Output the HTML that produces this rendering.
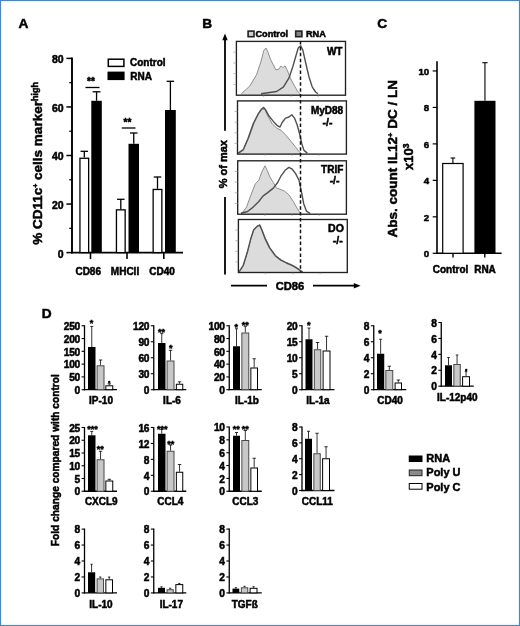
<!DOCTYPE html>
<html><head><meta charset="utf-8"><title>Figure</title>
<style>
html,body{margin:0;padding:0;background:#fff;}
body{width:520px;height:626px;overflow:hidden;position:relative;font-family:"Liberation Sans", Arial, Helvetica, sans-serif;}
#frame{position:absolute;left:0;top:0;width:520px;height:626px;box-sizing:border-box;border-style:solid;border-color:#4c84bc;border-width:1px 1.2px 1.8px 1.2px;box-shadow:inset 0 0 2px 0.5px #cfeeff;}
svg{position:absolute;left:0;top:0;filter:blur(0.4px);}
svg text{font-family:"Liberation Sans", Arial, Helvetica, sans-serif;fill:#000;stroke:#000;stroke-width:0.5px;}
</style></head><body>
<svg width="520" height="626" viewBox="0 0 520 626">
<text x="18.6" y="28.3" font-size="13.7" text-anchor="start" font-weight="bold" >A</text>
<line x1="72" y1="57.6" x2="72" y2="253.5" stroke="#000" stroke-width="1.9" />
<line x1="71.1" y1="252.6" x2="183" y2="252.6" stroke="#000" stroke-width="1.9" />
<line x1="66.4" y1="252.6" x2="72" y2="252.6" stroke="#000" stroke-width="1.5" />
<text x="63.7" y="257.5" font-size="10.5" text-anchor="end" font-weight="bold" >0</text>
<line x1="69.2" y1="228.325" x2="72" y2="228.325" stroke="#000" stroke-width="1.2" />
<line x1="66.4" y1="204.05" x2="72" y2="204.05" stroke="#000" stroke-width="1.5" />
<text x="63.7" y="208.95000000000002" font-size="10.5" text-anchor="end" font-weight="bold" >20</text>
<line x1="69.2" y1="179.775" x2="72" y2="179.775" stroke="#000" stroke-width="1.2" />
<line x1="66.4" y1="155.5" x2="72" y2="155.5" stroke="#000" stroke-width="1.5" />
<text x="63.7" y="160.4" font-size="10.5" text-anchor="end" font-weight="bold" >40</text>
<line x1="69.2" y1="131.22500000000002" x2="72" y2="131.22500000000002" stroke="#000" stroke-width="1.2" />
<line x1="66.4" y1="106.95000000000002" x2="72" y2="106.95000000000002" stroke="#000" stroke-width="1.5" />
<text x="63.7" y="111.85000000000002" font-size="10.5" text-anchor="end" font-weight="bold" >60</text>
<line x1="69.2" y1="82.67500000000001" x2="72" y2="82.67500000000001" stroke="#000" stroke-width="1.2" />
<line x1="66.4" y1="58.400000000000006" x2="72" y2="58.400000000000006" stroke="#000" stroke-width="1.5" />
<text x="63.7" y="63.300000000000004" font-size="10.5" text-anchor="end" font-weight="bold" >80</text>
<line x1="90.5" y1="252.6" x2="90.5" y2="259.1" stroke="#000" stroke-width="1.6" />
<line x1="127" y1="252.6" x2="127" y2="259.1" stroke="#000" stroke-width="1.6" />
<line x1="163.8" y1="252.6" x2="163.8" y2="259.1" stroke="#000" stroke-width="1.6" />
<line x1="84.3" y1="151.3" x2="84.3" y2="157.6" stroke="#000" stroke-width="1.3" />
<line x1="80.55" y1="151.3" x2="88.05" y2="151.3" stroke="#000" stroke-width="1.3" />
<rect x="79.95" y="158.25" width="8.7" height="94.35" fill="#fff" stroke="#000" stroke-width="1.3"/>
<line x1="96.55" y1="91.8" x2="96.55" y2="100.8" stroke="#000" stroke-width="1.3" />
<line x1="92.64999999999999" y1="91.8" x2="100.45" y2="91.8" stroke="#000" stroke-width="1.3" />
<rect x="91.3" y="100.8" width="10.5" height="151.8" fill="#000" stroke="none" stroke-width="1"/>
<line x1="120.8" y1="199.3" x2="120.8" y2="209.2" stroke="#000" stroke-width="1.3" />
<line x1="117.05" y1="199.3" x2="124.55" y2="199.3" stroke="#000" stroke-width="1.3" />
<rect x="116.45" y="209.85" width="8.7" height="42.75000000000001" fill="#fff" stroke="#000" stroke-width="1.3"/>
<line x1="133.75" y1="133" x2="133.75" y2="143.8" stroke="#000" stroke-width="1.3" />
<line x1="130.0" y1="133" x2="137.5" y2="133" stroke="#000" stroke-width="1.3" />
<rect x="128.5" y="143.8" width="10.5" height="108.79999999999998" fill="#000" stroke="none" stroke-width="1"/>
<line x1="157.5" y1="177" x2="157.5" y2="188.8" stroke="#000" stroke-width="1.3" />
<line x1="153.75" y1="177" x2="161.25" y2="177" stroke="#000" stroke-width="1.3" />
<rect x="153.15" y="189.45000000000002" width="8.7" height="63.149999999999984" fill="#fff" stroke="#000" stroke-width="1.3"/>
<line x1="170.4" y1="81.3" x2="170.4" y2="110" stroke="#000" stroke-width="1.3" />
<line x1="166.65" y1="81.3" x2="174.15" y2="81.3" stroke="#000" stroke-width="1.3" />
<rect x="165" y="110" width="10.800000000000011" height="142.6" fill="#000" stroke="none" stroke-width="1"/>
<line x1="85.5" y1="87.5" x2="99.5" y2="87.5" stroke="#000" stroke-width="1.3" />
<text x="91" y="84.5" font-size="10" text-anchor="middle" font-weight="bold" >**</text>
<line x1="121.8" y1="128" x2="135.5" y2="128" stroke="#000" stroke-width="1.3" />
<text x="127.5" y="125.5" font-size="10" text-anchor="middle" font-weight="bold" >**</text>
<text x="88.2" y="274.7" font-size="10" text-anchor="middle" font-weight="bold" >CD86</text>
<text x="125" y="274.7" font-size="10" text-anchor="middle" font-weight="bold" >MHCII</text>
<text x="162" y="274.7" font-size="10" text-anchor="middle" font-weight="bold" >CD40</text>
<rect x="108.3" y="59.2" width="15.6" height="7.2" fill="#fff" stroke="#000" stroke-width="1.5"/>
<rect x="107.5" y="71.6" width="17.1" height="8.5" fill="#000" stroke="none" stroke-width="1"/>
<text x="130" y="65.8" font-size="10" text-anchor="start" font-weight="bold" >Control</text>
<text x="130.3" y="80" font-size="10" text-anchor="start" font-weight="bold" >RNA</text>
<text transform="translate(42.3,244.8) rotate(-90)" font-size="13.5" font-weight="bold">% CD11c<tspan font-size="7" dy="-4.6">+</tspan><tspan dy="4.6"> cells marker</tspan><tspan font-size="9" dy="-4.2">high</tspan></text>
<text x="202.3" y="28.3" font-size="13.7" text-anchor="start" font-weight="bold" >B</text>
<line x1="225" y1="39.5" x2="225" y2="130.8" stroke="#000" stroke-width="1.8" />
<line x1="225" y1="197" x2="225" y2="274.4" stroke="#000" stroke-width="1.8" />
<polygon points="225,33.4 222.3,40.3 227.7,40.3" fill="#000"/>
<text transform="translate(226.8,188.3) rotate(-90)" font-size="11" font-weight="bold">% of max</text>
<rect x="248.1" y="31.1" width="5.9" height="5.6" fill="#d0d0d0" stroke="#222" stroke-width="1.6"/>
<text x="255.4" y="36.5" font-size="9.2" text-anchor="start" font-weight="bold" >Control</text>
<rect x="295.7" y="31.1" width="6.2" height="5.6" fill="#858585" stroke="#222" stroke-width="1.6"/>
<text x="305.9" y="36.5" font-size="9.2" text-anchor="start" font-weight="bold" >RNA</text>
<rect x="236.4" y="41.4" width="109.1" height="53.800000000000004" fill="#fff" stroke="none" stroke-width="1"/>
<polygon points="241.4,93.8 249.8,86 256.5,74.8 261,61.4 263.9,50.3 265.9,48 267.7,51.4 270.4,59.2 273.3,64.8 275.9,69.9 278.8,69.2 281.1,65.9 282.9,67.7 285.1,65.9 287.3,70.3 290.4,78.2 294.5,86 297.8,91.5 300,93.8 300,95.2 241.4,95.2" fill="#dcdcdc" stroke="none"/>
<polyline points="241.4,93.8 249.8,86 256.5,74.8 261,61.4 263.9,50.3 265.9,48 267.7,51.4 270.4,59.2 273.3,64.8 275.9,69.9 278.8,69.2 281.1,65.9 282.9,67.7 285.1,65.9 287.3,70.3 290.4,78.2 294.5,86 297.8,91.5 300,93.8" fill="none" stroke="#8e8e8e" stroke-width="1" stroke-linejoin="round"/>
<polyline points="261,93.8 276.6,91.5 283.3,87.1 288.9,78.2 292.7,67 295.6,57 298.2,48 300.7,45.8 302.9,50.3 305.6,62.5 309,77 312.3,87.1 315.6,92 317.9,93.8" fill="none" stroke="#505050" stroke-width="1.4" stroke-linejoin="round"/>
<rect x="236.4" y="41.4" width="109.1" height="53.800000000000004" fill="none" stroke="#222" stroke-width="1.35"/>
<line x1="233.4" y1="52.16" x2="236.4" y2="52.16" stroke="#888" stroke-width="0.6" />
<line x1="233.4" y1="62.92" x2="236.4" y2="62.92" stroke="#888" stroke-width="0.6" />
<line x1="233.4" y1="73.68" x2="236.4" y2="73.68" stroke="#888" stroke-width="0.6" />
<line x1="233.4" y1="84.44" x2="236.4" y2="84.44" stroke="#888" stroke-width="0.6" />
<line x1="263.675" y1="95.2" x2="263.675" y2="97.0" stroke="#888" stroke-width="0.6" />
<line x1="290.95" y1="95.2" x2="290.95" y2="97.0" stroke="#888" stroke-width="0.6" />
<line x1="318.225" y1="95.2" x2="318.225" y2="97.0" stroke="#888" stroke-width="0.6" />
<rect x="237.5" y="100.9" width="108.89999999999998" height="53.19999999999999" fill="#fff" stroke="none" stroke-width="1"/>
<polygon points="238.7,153.1 243.2,150.4 248.7,138.2 254.3,122.5 258.8,113.6 262.1,109.2 265,109.6 267.7,115.8 272.2,123.7 276.6,128.1 281.1,130.3 285.5,134.8 291.1,141.5 295.6,147.1 298.9,151.5 301.1,153.1 301.1,154.1 238.7,154.1" fill="#dcdcdc" stroke="none"/>
<polyline points="238.7,153.1 243.2,150.4 248.7,138.2 254.3,122.5 258.8,113.6 262.1,109.2 265,109.6 267.7,115.8 272.2,123.7 276.6,128.1 281.1,130.3 285.5,134.8 291.1,141.5 295.6,147.1 298.9,151.5 301.1,153.1" fill="none" stroke="#8e8e8e" stroke-width="1" stroke-linejoin="round"/>
<polyline points="238.2,153.1 243.2,149.7 248.1,138.2 253.2,123.7 257.7,114.7 261.4,109.2 263.7,107.4 265.9,110.3 268.8,115.8 273.3,121.4 277.7,125.9 280,127 282.2,122.5 285.5,118.1 288.9,117 291.8,114.7 294.5,118.1 297.1,124.8 299.6,133.7 301.8,143.7 304,150.4 307.4,153.1" fill="none" stroke="#505050" stroke-width="1.4" stroke-linejoin="round"/>
<rect x="237.5" y="100.9" width="108.89999999999998" height="53.19999999999999" fill="none" stroke="#222" stroke-width="1.35"/>
<line x1="234.5" y1="111.54" x2="237.5" y2="111.54" stroke="#888" stroke-width="0.6" />
<line x1="234.5" y1="122.18" x2="237.5" y2="122.18" stroke="#888" stroke-width="0.6" />
<line x1="234.5" y1="132.82" x2="237.5" y2="132.82" stroke="#888" stroke-width="0.6" />
<line x1="234.5" y1="143.45999999999998" x2="237.5" y2="143.45999999999998" stroke="#888" stroke-width="0.6" />
<line x1="264.725" y1="154.1" x2="264.725" y2="155.9" stroke="#888" stroke-width="0.6" />
<line x1="291.95" y1="154.1" x2="291.95" y2="155.9" stroke="#888" stroke-width="0.6" />
<line x1="319.17499999999995" y1="154.1" x2="319.17499999999995" y2="155.9" stroke="#888" stroke-width="0.6" />
<rect x="237.7" y="160.8" width="108.69999999999999" height="53.39999999999998" fill="#fff" stroke="none" stroke-width="1"/>
<polygon points="242,213.1 246.5,207.1 251,194.8 255.4,183.7 258.8,180.3 262.1,171.4 265,165.8 267.2,170.3 269.9,177 273.3,182.5 276.6,188.1 280,189.2 284.4,191 288.9,194.8 293.3,201.5 297.1,208.2 300,212.6 300,214.2 242,214.2" fill="#dcdcdc" stroke="none"/>
<polyline points="242,213.1 246.5,207.1 251,194.8 255.4,183.7 258.8,180.3 262.1,171.4 265,165.8 267.2,170.3 269.9,177 273.3,182.5 276.6,188.1 280,189.2 284.4,191 288.9,194.8 293.3,201.5 297.1,208.2 300,212.6" fill="none" stroke="#8e8e8e" stroke-width="1" stroke-linejoin="round"/>
<polyline points="240.9,213.3 247.6,211.5 253.2,207.1 258.8,201.5 263.2,195.9 267.7,192.6 273.3,188.1 277.7,182.5 281.1,175.8 285.1,170.3 288.9,167.4 292.2,169.2 295.6,173.6 299,180.3 301.4,191.5 303.7,203.7 306.4,211.1 310,213.3" fill="none" stroke="#505050" stroke-width="1.4" stroke-linejoin="round"/>
<rect x="237.7" y="160.8" width="108.69999999999999" height="53.39999999999998" fill="none" stroke="#222" stroke-width="1.35"/>
<line x1="234.7" y1="171.48000000000002" x2="237.7" y2="171.48000000000002" stroke="#888" stroke-width="0.6" />
<line x1="234.7" y1="182.16" x2="237.7" y2="182.16" stroke="#888" stroke-width="0.6" />
<line x1="234.7" y1="192.84" x2="237.7" y2="192.84" stroke="#888" stroke-width="0.6" />
<line x1="234.7" y1="203.51999999999998" x2="237.7" y2="203.51999999999998" stroke="#888" stroke-width="0.6" />
<line x1="264.875" y1="214.2" x2="264.875" y2="216.0" stroke="#888" stroke-width="0.6" />
<line x1="292.04999999999995" y1="214.2" x2="292.04999999999995" y2="216.0" stroke="#888" stroke-width="0.6" />
<line x1="319.22499999999997" y1="214.2" x2="319.22499999999997" y2="216.0" stroke="#888" stroke-width="0.6" />
<rect x="238.4" y="219.5" width="108.9" height="53.0" fill="#fff" stroke="none" stroke-width="1"/>
<polygon points="239.5,271.3 243.4,265.3 247.6,251.9 251,238.5 253.9,229.6 257,226.3 259.9,224.7 262.1,229.6 265.5,238.5 269.9,247.5 275.5,255.3 281.1,259.7 286.7,262.6 292.2,264.9 296.7,267.5 301.1,270.6 302.9,271.6 302.9,272.5 239.5,272.5" fill="#dcdcdc" stroke="none"/>
<polyline points="239.5,271.3 243.4,265.3 247.6,251.9 251,238.5 253.9,229.6 257,226.3 259.9,224.7 262.1,229.6 265.5,238.5 269.9,247.5 275.5,255.3 281.1,259.7 286.7,262.6 292.2,264.9 296.7,267.5 301.1,270.6 302.9,271.6" fill="none" stroke="#8e8e8e" stroke-width="1" stroke-linejoin="round"/>
<polyline points="239.2,271.7 243.1,265.7 247.29999999999998,252.3 250.7,238.9 253.6,230.0 256.7,226.70000000000002 259.59999999999997,225.1 261.8,230.0 265.2,238.9 269.59999999999997,247.9 275.2,255.70000000000002 280.8,260.09999999999997 286.4,263.0 291.9,265.29999999999995 296.4,267.9 300.8,271.0 302.59999999999997,272.0" fill="none" stroke="#505050" stroke-width="1.4" stroke-linejoin="round"/>
<rect x="238.4" y="219.5" width="108.9" height="53.0" fill="none" stroke="#222" stroke-width="1.35"/>
<line x1="235.4" y1="230.1" x2="238.4" y2="230.1" stroke="#888" stroke-width="0.6" />
<line x1="235.4" y1="240.7" x2="238.4" y2="240.7" stroke="#888" stroke-width="0.6" />
<line x1="235.4" y1="251.3" x2="238.4" y2="251.3" stroke="#888" stroke-width="0.6" />
<line x1="235.4" y1="261.9" x2="238.4" y2="261.9" stroke="#888" stroke-width="0.6" />
<line x1="265.625" y1="272.5" x2="265.625" y2="274.3" stroke="#888" stroke-width="0.6" />
<line x1="292.85" y1="272.5" x2="292.85" y2="274.3" stroke="#888" stroke-width="0.6" />
<line x1="320.07500000000005" y1="272.5" x2="320.07500000000005" y2="274.3" stroke="#888" stroke-width="0.6" />
<line x1="300.5" y1="41" x2="300.5" y2="271.8" stroke="#111" stroke-width="1.5" stroke-dasharray="3.5 2.4"/>
<text x="334.7" y="54.9" font-size="10" text-anchor="middle" font-weight="bold" >WT</text>
<text x="327" y="113.9" font-size="10" text-anchor="middle" font-weight="bold" >MyD88</text>
<text x="327.5" y="126" font-size="10.5" text-anchor="middle" font-weight="bold" >-/-</text>
<text x="332.2" y="172.9" font-size="10" text-anchor="middle" font-weight="bold" >TRIF</text>
<text x="334.6" y="184.3" font-size="10.5" text-anchor="middle" font-weight="bold" >-/-</text>
<text x="336" y="232" font-size="10.6" text-anchor="middle" font-weight="bold" >DO</text>
<text x="337.7" y="243.8" font-size="10.5" text-anchor="middle" font-weight="bold" >-/-</text>
<line x1="231" y1="285.7" x2="267" y2="285.7" stroke="#000" stroke-width="1.7" />
<line x1="313" y1="285.7" x2="355" y2="285.7" stroke="#000" stroke-width="1.7" />
<polygon points="360.6,285.7 353.8,283 353.8,288.4" fill="#000"/>
<text x="290" y="290.2" font-size="11.2" text-anchor="middle" font-weight="bold" >CD86</text>
<text x="377.3" y="28.2" font-size="13.7" text-anchor="start" font-weight="bold" >C</text>
<line x1="437" y1="61.3" x2="437" y2="254.10000000000002" stroke="#000" stroke-width="1.6" />
<line x1="436.2" y1="253.3" x2="501.6" y2="253.3" stroke="#000" stroke-width="1.6" />
<line x1="432.7" y1="253.3" x2="437" y2="253.3" stroke="#000" stroke-width="1.2" />
<text x="429.2" y="257.3" font-size="9.7" text-anchor="end" font-weight="bold" >0</text>
<line x1="432.7" y1="216.83" x2="437" y2="216.83" stroke="#000" stroke-width="1.2" />
<text x="429.2" y="220.83" font-size="9.7" text-anchor="end" font-weight="bold" >2</text>
<line x1="432.7" y1="180.36" x2="437" y2="180.36" stroke="#000" stroke-width="1.2" />
<text x="429.2" y="184.36" font-size="9.7" text-anchor="end" font-weight="bold" >4</text>
<line x1="432.7" y1="143.89000000000001" x2="437" y2="143.89000000000001" stroke="#000" stroke-width="1.2" />
<text x="429.2" y="147.89000000000001" font-size="9.7" text-anchor="end" font-weight="bold" >6</text>
<line x1="432.7" y1="107.42000000000002" x2="437" y2="107.42000000000002" stroke="#000" stroke-width="1.2" />
<text x="429.2" y="111.42000000000002" font-size="9.7" text-anchor="end" font-weight="bold" >8</text>
<line x1="432.7" y1="70.95000000000002" x2="437" y2="70.95000000000002" stroke="#000" stroke-width="1.2" />
<text x="429.2" y="74.95000000000002" font-size="9.7" text-anchor="end" font-weight="bold" >10</text>
<line x1="453" y1="253.3" x2="453" y2="257.5" stroke="#000" stroke-width="1.4" />
<line x1="484.8" y1="253.3" x2="484.8" y2="257.5" stroke="#000" stroke-width="1.4" />
<line x1="452.9" y1="158" x2="452.9" y2="162.9" stroke="#000" stroke-width="1.1" />
<line x1="450.59999999999997" y1="158" x2="455.2" y2="158" stroke="#000" stroke-width="1.1" />
<rect x="442.70000000000005" y="163.5" width="20.399999999999967" height="89.80000000000001" fill="#fff" stroke="#000" stroke-width="1.2"/>
<line x1="484.95" y1="62.7" x2="484.95" y2="100.8" stroke="#000" stroke-width="1.1" />
<line x1="482.34999999999997" y1="62.7" x2="487.55" y2="62.7" stroke="#000" stroke-width="1.1" />
<rect x="474.4" y="100.8" width="21.100000000000023" height="152.5" fill="#000" stroke="none" stroke-width="1"/>
<text x="450.5" y="273.3" font-size="10" text-anchor="middle" font-weight="bold" >Control</text>
<text x="485" y="273.3" font-size="10" text-anchor="middle" font-weight="bold" >RNA</text>
<text transform="translate(397.1,237.5) rotate(-90)" font-size="13.5" font-weight="bold">Abs. count IL12<tspan font-size="7.5" dy="-4.6">+</tspan><tspan dy="4.6"> DC / LN</tspan></text>
<text transform="translate(413.2,169.9) rotate(-90)" font-size="13" font-weight="bold">x10<tspan font-size="8.5" dy="-4.5">3</tspan></text>
<text x="41.8" y="318.2" font-size="13.7" text-anchor="start" font-weight="bold" >D</text>
<text transform="translate(59.3,546.2) rotate(-90)" font-size="10.2" font-weight="bold">Fold change compared with control</text>
<line x1="84.5" y1="325.25" x2="84.5" y2="390.34999999999997" stroke="#000" stroke-width="1.3" />
<line x1="83.85" y1="389.7" x2="117.0" y2="389.7" stroke="#000" stroke-width="1.3" />
<line x1="81.6" y1="389.7" x2="84.5" y2="389.7" stroke="#000" stroke-width="1.1" />
<text x="80.0" y="393.9" font-size="10.2" text-anchor="end" font-weight="bold" letter-spacing="-0.25">0</text>
<line x1="81.6" y1="376.90999999999997" x2="84.5" y2="376.90999999999997" stroke="#000" stroke-width="1.1" />
<text x="80.0" y="381.10999999999996" font-size="10.2" text-anchor="end" font-weight="bold" letter-spacing="-0.25">50</text>
<line x1="81.6" y1="364.12" x2="84.5" y2="364.12" stroke="#000" stroke-width="1.1" />
<text x="80.0" y="368.32" font-size="10.2" text-anchor="end" font-weight="bold" letter-spacing="-0.25">100</text>
<line x1="81.6" y1="351.33" x2="84.5" y2="351.33" stroke="#000" stroke-width="1.1" />
<text x="80.0" y="355.53" font-size="10.2" text-anchor="end" font-weight="bold" letter-spacing="-0.25">150</text>
<line x1="81.6" y1="338.54" x2="84.5" y2="338.54" stroke="#000" stroke-width="1.1" />
<text x="80.0" y="342.74" font-size="10.2" text-anchor="end" font-weight="bold" letter-spacing="-0.25">200</text>
<line x1="81.6" y1="325.75" x2="84.5" y2="325.75" stroke="#000" stroke-width="1.1" />
<text x="80.0" y="329.95" font-size="10.2" text-anchor="end" font-weight="bold" letter-spacing="-0.25">250</text>
<line x1="91.75" y1="326.4" x2="91.75" y2="347" stroke="#000" stroke-width="0.8" />
<line x1="90.25" y1="326.4" x2="93.25" y2="326.4" stroke="#000" stroke-width="0.8" />
<rect x="88" y="347" width="7.5" height="42.69999999999999" fill="#000" stroke="none" stroke-width="1"/>
<line x1="100.55" y1="360" x2="100.55" y2="365.3" stroke="#000" stroke-width="0.8" />
<line x1="98.85" y1="360" x2="102.25" y2="360" stroke="#000" stroke-width="0.8" />
<rect x="97.1" y="365.8" width="6.900000000000006" height="23.899999999999977" fill="#c8c8c8" stroke="#4a4a4a" stroke-width="1.0"/>
<line x1="109.3" y1="383.8" x2="109.3" y2="385.3" stroke="#000" stroke-width="0.8" />
<line x1="107.6" y1="383.8" x2="111.0" y2="383.8" stroke="#000" stroke-width="0.8" />
<rect x="105.85" y="385.8" width="6.900000000000006" height="3.8999999999999773" fill="#fff" stroke="#000" stroke-width="1.0"/>
<text x="101" y="404.2" font-size="10" text-anchor="middle" font-weight="bold" >IP-10</text>
<text x="91.5" y="325.7" font-size="9" text-anchor="middle" font-weight="bold" >*</text>
<text x="109.3" y="385.1" font-size="5" text-anchor="middle" font-weight="bold" >*</text>
<line x1="153.75" y1="325.25" x2="153.75" y2="390.34999999999997" stroke="#000" stroke-width="1.3" />
<line x1="153.1" y1="389.7" x2="186.25" y2="389.7" stroke="#000" stroke-width="1.3" />
<line x1="150.85" y1="389.7" x2="153.75" y2="389.7" stroke="#000" stroke-width="1.1" />
<text x="149.25" y="393.9" font-size="10.2" text-anchor="end" font-weight="bold" letter-spacing="-0.25">0</text>
<line x1="150.85" y1="373.7125" x2="153.75" y2="373.7125" stroke="#000" stroke-width="1.1" />
<text x="149.25" y="377.91249999999997" font-size="10.2" text-anchor="end" font-weight="bold" letter-spacing="-0.25">30</text>
<line x1="150.85" y1="357.725" x2="153.75" y2="357.725" stroke="#000" stroke-width="1.1" />
<text x="149.25" y="361.925" font-size="10.2" text-anchor="end" font-weight="bold" letter-spacing="-0.25">60</text>
<line x1="150.85" y1="341.7375" x2="153.75" y2="341.7375" stroke="#000" stroke-width="1.1" />
<text x="149.25" y="345.9375" font-size="10.2" text-anchor="end" font-weight="bold" letter-spacing="-0.25">90</text>
<line x1="150.85" y1="325.75" x2="153.75" y2="325.75" stroke="#000" stroke-width="1.1" />
<text x="149.25" y="329.95" font-size="10.2" text-anchor="end" font-weight="bold" letter-spacing="-0.25">120</text>
<line x1="161.75" y1="333.6" x2="161.75" y2="343" stroke="#000" stroke-width="0.8" />
<line x1="160.25" y1="333.6" x2="163.25" y2="333.6" stroke="#000" stroke-width="0.8" />
<rect x="158" y="343" width="7.5" height="46.69999999999999" fill="#000" stroke="none" stroke-width="1"/>
<line x1="170.55" y1="350.3" x2="170.55" y2="360.5" stroke="#000" stroke-width="0.8" />
<line x1="168.85000000000002" y1="350.3" x2="172.25" y2="350.3" stroke="#000" stroke-width="0.8" />
<rect x="167.1" y="361.0" width="6.900000000000006" height="28.69999999999999" fill="#c8c8c8" stroke="#4a4a4a" stroke-width="1.0"/>
<line x1="179.55" y1="381.8" x2="179.55" y2="383.75" stroke="#000" stroke-width="0.8" />
<line x1="177.85000000000002" y1="381.8" x2="181.25" y2="381.8" stroke="#000" stroke-width="0.8" />
<rect x="176.35" y="384.25" width="6.400000000000006" height="5.449999999999989" fill="#fff" stroke="#000" stroke-width="1.0"/>
<text x="172" y="404.2" font-size="10" text-anchor="middle" font-weight="bold" >IL-6</text>
<text x="161.5" y="334.7" font-size="9" text-anchor="middle" font-weight="bold" >**</text>
<text x="170.75" y="350.7" font-size="9" text-anchor="middle" font-weight="bold" >*</text>
<line x1="229.25" y1="325.25" x2="229.25" y2="390.34999999999997" stroke="#000" stroke-width="1.3" />
<line x1="228.6" y1="389.7" x2="261.75" y2="389.7" stroke="#000" stroke-width="1.3" />
<line x1="226.35" y1="389.7" x2="229.25" y2="389.7" stroke="#000" stroke-width="1.1" />
<text x="224.75" y="393.9" font-size="10.2" text-anchor="end" font-weight="bold" letter-spacing="-0.25">0</text>
<line x1="226.35" y1="376.90999999999997" x2="229.25" y2="376.90999999999997" stroke="#000" stroke-width="1.1" />
<text x="224.75" y="381.10999999999996" font-size="10.2" text-anchor="end" font-weight="bold" letter-spacing="-0.25">20</text>
<line x1="226.35" y1="364.12" x2="229.25" y2="364.12" stroke="#000" stroke-width="1.1" />
<text x="224.75" y="368.32" font-size="10.2" text-anchor="end" font-weight="bold" letter-spacing="-0.25">40</text>
<line x1="226.35" y1="351.33" x2="229.25" y2="351.33" stroke="#000" stroke-width="1.1" />
<text x="224.75" y="355.53" font-size="10.2" text-anchor="end" font-weight="bold" letter-spacing="-0.25">60</text>
<line x1="226.35" y1="338.54" x2="229.25" y2="338.54" stroke="#000" stroke-width="1.1" />
<text x="224.75" y="342.74" font-size="10.2" text-anchor="end" font-weight="bold" letter-spacing="-0.25">80</text>
<line x1="226.35" y1="325.75" x2="229.25" y2="325.75" stroke="#000" stroke-width="1.1" />
<text x="224.75" y="329.95" font-size="10.2" text-anchor="end" font-weight="bold" letter-spacing="-0.25">100</text>
<line x1="236.5" y1="328.75" x2="236.5" y2="346.25" stroke="#000" stroke-width="0.8" />
<line x1="235.0" y1="328.75" x2="238.0" y2="328.75" stroke="#000" stroke-width="0.8" />
<rect x="233" y="346.25" width="7" height="43.44999999999999" fill="#000" stroke="none" stroke-width="1"/>
<line x1="245.3" y1="326.25" x2="245.3" y2="332.5" stroke="#000" stroke-width="0.8" />
<line x1="243.60000000000002" y1="326.25" x2="247.0" y2="326.25" stroke="#000" stroke-width="0.8" />
<rect x="241.85" y="333.0" width="6.900000000000006" height="56.69999999999999" fill="#c8c8c8" stroke="#4a4a4a" stroke-width="1.0"/>
<line x1="254.175" y1="358.75" x2="254.175" y2="367.5" stroke="#000" stroke-width="0.8" />
<line x1="252.47500000000002" y1="358.75" x2="255.875" y2="358.75" stroke="#000" stroke-width="0.8" />
<rect x="250.85" y="368.0" width="6.650000000000006" height="21.69999999999999" fill="#fff" stroke="#000" stroke-width="1.0"/>
<text x="247" y="404.2" font-size="10" text-anchor="middle" font-weight="bold" >IL-1b</text>
<text x="236.3" y="329.7" font-size="9" text-anchor="middle" font-weight="bold" >*</text>
<text x="245.3" y="327.5" font-size="9" text-anchor="middle" font-weight="bold" >**</text>
<line x1="302" y1="325.25" x2="302" y2="390.34999999999997" stroke="#000" stroke-width="1.3" />
<line x1="301.35" y1="389.7" x2="334.5" y2="389.7" stroke="#000" stroke-width="1.3" />
<line x1="299.1" y1="389.7" x2="302" y2="389.7" stroke="#000" stroke-width="1.1" />
<text x="297.5" y="393.9" font-size="10.2" text-anchor="end" font-weight="bold" letter-spacing="-0.25">0</text>
<line x1="299.1" y1="373.7125" x2="302" y2="373.7125" stroke="#000" stroke-width="1.1" />
<text x="297.5" y="377.91249999999997" font-size="10.2" text-anchor="end" font-weight="bold" letter-spacing="-0.25">5</text>
<line x1="299.1" y1="357.725" x2="302" y2="357.725" stroke="#000" stroke-width="1.1" />
<text x="297.5" y="361.925" font-size="10.2" text-anchor="end" font-weight="bold" letter-spacing="-0.25">10</text>
<line x1="299.1" y1="341.7375" x2="302" y2="341.7375" stroke="#000" stroke-width="1.1" />
<text x="297.5" y="345.9375" font-size="10.2" text-anchor="end" font-weight="bold" letter-spacing="-0.25">15</text>
<line x1="299.1" y1="325.75" x2="302" y2="325.75" stroke="#000" stroke-width="1.1" />
<text x="297.5" y="329.95" font-size="10.2" text-anchor="end" font-weight="bold" letter-spacing="-0.25">20</text>
<line x1="309.0" y1="328" x2="309.0" y2="339.25" stroke="#000" stroke-width="0.8" />
<line x1="307.5" y1="328" x2="310.5" y2="328" stroke="#000" stroke-width="0.8" />
<rect x="305.5" y="339.25" width="7.0" height="50.44999999999999" fill="#000" stroke="none" stroke-width="1"/>
<line x1="317.55" y1="342.5" x2="317.55" y2="349.25" stroke="#000" stroke-width="0.8" />
<line x1="315.85" y1="342.5" x2="319.25" y2="342.5" stroke="#000" stroke-width="0.8" />
<rect x="314.35" y="349.75" width="6.399999999999977" height="39.94999999999999" fill="#c8c8c8" stroke="#4a4a4a" stroke-width="1.0"/>
<line x1="326.55" y1="336.25" x2="326.55" y2="350.5" stroke="#000" stroke-width="0.8" />
<line x1="324.85" y1="336.25" x2="328.25" y2="336.25" stroke="#000" stroke-width="0.8" />
<rect x="323.1" y="351.0" width="6.899999999999977" height="38.69999999999999" fill="#fff" stroke="#000" stroke-width="1.0"/>
<text x="318" y="404.2" font-size="10" text-anchor="middle" font-weight="bold" >IL-1a</text>
<text x="308.75" y="327.7" font-size="9" text-anchor="middle" font-weight="bold" >*</text>
<line x1="373.75" y1="325.25" x2="373.75" y2="390.34999999999997" stroke="#000" stroke-width="1.3" />
<line x1="373.1" y1="389.7" x2="406.25" y2="389.7" stroke="#000" stroke-width="1.3" />
<line x1="370.85" y1="389.7" x2="373.75" y2="389.7" stroke="#000" stroke-width="1.1" />
<text x="369.25" y="393.9" font-size="10.2" text-anchor="end" font-weight="bold" letter-spacing="-0.25">0</text>
<line x1="370.85" y1="373.7125" x2="373.75" y2="373.7125" stroke="#000" stroke-width="1.1" />
<text x="369.25" y="377.91249999999997" font-size="10.2" text-anchor="end" font-weight="bold" letter-spacing="-0.25">2</text>
<line x1="370.85" y1="357.725" x2="373.75" y2="357.725" stroke="#000" stroke-width="1.1" />
<text x="369.25" y="361.925" font-size="10.2" text-anchor="end" font-weight="bold" letter-spacing="-0.25">4</text>
<line x1="370.85" y1="341.7375" x2="373.75" y2="341.7375" stroke="#000" stroke-width="1.1" />
<text x="369.25" y="345.9375" font-size="10.2" text-anchor="end" font-weight="bold" letter-spacing="-0.25">6</text>
<line x1="370.85" y1="325.75" x2="373.75" y2="325.75" stroke="#000" stroke-width="1.1" />
<text x="369.25" y="329.95" font-size="10.2" text-anchor="end" font-weight="bold" letter-spacing="-0.25">8</text>
<line x1="380.625" y1="339.25" x2="380.625" y2="353.75" stroke="#000" stroke-width="0.8" />
<line x1="379.125" y1="339.25" x2="382.125" y2="339.25" stroke="#000" stroke-width="0.8" />
<rect x="377" y="353.75" width="7.25" height="35.94999999999999" fill="#000" stroke="none" stroke-width="1"/>
<line x1="389.3" y1="366.25" x2="389.3" y2="370" stroke="#000" stroke-width="0.8" />
<line x1="387.6" y1="366.25" x2="391.0" y2="366.25" stroke="#000" stroke-width="0.8" />
<rect x="385.85" y="370.5" width="6.899999999999977" height="19.19999999999999" fill="#c8c8c8" stroke="#4a4a4a" stroke-width="1.0"/>
<line x1="398.3" y1="380" x2="398.3" y2="382.5" stroke="#000" stroke-width="0.8" />
<line x1="396.6" y1="380" x2="400.0" y2="380" stroke="#000" stroke-width="0.8" />
<rect x="395.1" y="383.0" width="6.399999999999977" height="6.699999999999989" fill="#fff" stroke="#000" stroke-width="1.0"/>
<text x="390" y="404.2" font-size="10" text-anchor="middle" font-weight="bold" >CD40</text>
<text x="380" y="336.2" font-size="9" text-anchor="middle" font-weight="bold" >*</text>
<line x1="441.25" y1="322.0" x2="441.25" y2="386.84999999999997" stroke="#000" stroke-width="1.3" />
<line x1="440.6" y1="386.2" x2="473.75" y2="386.2" stroke="#000" stroke-width="1.3" />
<line x1="438.35" y1="386.2" x2="441.25" y2="386.2" stroke="#000" stroke-width="1.1" />
<text x="436.75" y="390.4" font-size="10.2" text-anchor="end" font-weight="bold" letter-spacing="-0.25">0</text>
<line x1="438.35" y1="370.275" x2="441.25" y2="370.275" stroke="#000" stroke-width="1.1" />
<text x="436.75" y="374.47499999999997" font-size="10.2" text-anchor="end" font-weight="bold" letter-spacing="-0.25">2</text>
<line x1="438.35" y1="354.35" x2="441.25" y2="354.35" stroke="#000" stroke-width="1.1" />
<text x="436.75" y="358.55" font-size="10.2" text-anchor="end" font-weight="bold" letter-spacing="-0.25">4</text>
<line x1="438.35" y1="338.425" x2="441.25" y2="338.425" stroke="#000" stroke-width="1.1" />
<text x="436.75" y="342.625" font-size="10.2" text-anchor="end" font-weight="bold" letter-spacing="-0.25">6</text>
<line x1="438.35" y1="322.5" x2="441.25" y2="322.5" stroke="#000" stroke-width="1.1" />
<text x="436.75" y="326.7" font-size="10.2" text-anchor="end" font-weight="bold" letter-spacing="-0.25">8</text>
<line x1="448.5" y1="357.5" x2="448.5" y2="365.3" stroke="#000" stroke-width="0.8" />
<line x1="447.2" y1="357.5" x2="449.8" y2="357.5" stroke="#000" stroke-width="0.8" />
<rect x="445" y="365.3" width="7" height="20.899999999999977" fill="#000" stroke="none" stroke-width="1"/>
<line x1="457.05" y1="355" x2="457.05" y2="364" stroke="#000" stroke-width="0.8" />
<line x1="455.75" y1="355" x2="458.35" y2="355" stroke="#000" stroke-width="0.8" />
<rect x="453.85" y="364.5" width="6.399999999999977" height="21.69999999999999" fill="#c8c8c8" stroke="#4a4a4a" stroke-width="1.0"/>
<line x1="466.05" y1="371.6" x2="466.05" y2="376.2" stroke="#000" stroke-width="0.8" />
<line x1="464.75" y1="371.6" x2="467.35" y2="371.6" stroke="#000" stroke-width="0.8" />
<rect x="462.6" y="376.7" width="6.899999999999977" height="9.5" fill="#fff" stroke="#000" stroke-width="1.0"/>
<text x="457.3" y="400.5" font-size="10" text-anchor="middle" font-weight="bold" >IL-12p40</text>
<text x="466.3" y="373.1" font-size="5" text-anchor="middle" font-weight="bold" >*</text>
<line x1="84.5" y1="427.0" x2="84.5" y2="491.9" stroke="#000" stroke-width="1.3" />
<line x1="83.85" y1="491.25" x2="117.0" y2="491.25" stroke="#000" stroke-width="1.3" />
<line x1="81.6" y1="491.25" x2="84.5" y2="491.25" stroke="#000" stroke-width="1.1" />
<text x="80.0" y="495.45" font-size="10.2" text-anchor="end" font-weight="bold" letter-spacing="-0.25">0</text>
<line x1="81.6" y1="478.5" x2="84.5" y2="478.5" stroke="#000" stroke-width="1.1" />
<text x="80.0" y="482.7" font-size="10.2" text-anchor="end" font-weight="bold" letter-spacing="-0.25">5</text>
<line x1="81.6" y1="465.75" x2="84.5" y2="465.75" stroke="#000" stroke-width="1.1" />
<text x="80.0" y="469.95" font-size="10.2" text-anchor="end" font-weight="bold" letter-spacing="-0.25">10</text>
<line x1="81.6" y1="453.0" x2="84.5" y2="453.0" stroke="#000" stroke-width="1.1" />
<text x="80.0" y="457.2" font-size="10.2" text-anchor="end" font-weight="bold" letter-spacing="-0.25">15</text>
<line x1="81.6" y1="440.25" x2="84.5" y2="440.25" stroke="#000" stroke-width="1.1" />
<text x="80.0" y="444.45" font-size="10.2" text-anchor="end" font-weight="bold" letter-spacing="-0.25">20</text>
<line x1="81.6" y1="427.5" x2="84.5" y2="427.5" stroke="#000" stroke-width="1.1" />
<text x="80.0" y="431.7" font-size="10.2" text-anchor="end" font-weight="bold" letter-spacing="-0.25">25</text>
<line x1="91.75" y1="431.4" x2="91.75" y2="435.3" stroke="#000" stroke-width="0.8" />
<line x1="90.25" y1="431.4" x2="93.25" y2="431.4" stroke="#000" stroke-width="0.8" />
<rect x="88" y="435.3" width="7.5" height="55.94999999999999" fill="#000" stroke="none" stroke-width="1"/>
<line x1="100.55" y1="451.25" x2="100.55" y2="459.25" stroke="#000" stroke-width="0.8" />
<line x1="98.85" y1="451.25" x2="102.25" y2="451.25" stroke="#000" stroke-width="0.8" />
<rect x="97.1" y="459.75" width="6.900000000000006" height="31.5" fill="#c8c8c8" stroke="#4a4a4a" stroke-width="1.0"/>
<line x1="109.3" y1="479.3" x2="109.3" y2="480.5" stroke="#000" stroke-width="0.8" />
<line x1="107.6" y1="479.3" x2="111.0" y2="479.3" stroke="#000" stroke-width="0.8" />
<rect x="105.85" y="481.0" width="6.900000000000006" height="10.25" fill="#fff" stroke="#000" stroke-width="1.0"/>
<text x="101.3" y="505.4" font-size="10" text-anchor="middle" font-weight="bold" >CXCL9</text>
<text x="92.5" y="431.7" font-size="9" text-anchor="middle" font-weight="bold" >***</text>
<text x="100.2" y="452.4" font-size="9" text-anchor="middle" font-weight="bold" >**</text>
<line x1="153.75" y1="427.0" x2="153.75" y2="491.9" stroke="#000" stroke-width="1.3" />
<line x1="153.1" y1="491.25" x2="186.25" y2="491.25" stroke="#000" stroke-width="1.3" />
<line x1="150.85" y1="491.25" x2="153.75" y2="491.25" stroke="#000" stroke-width="1.1" />
<text x="149.25" y="495.45" font-size="10.2" text-anchor="end" font-weight="bold" letter-spacing="-0.25">0</text>
<line x1="150.85" y1="475.3125" x2="153.75" y2="475.3125" stroke="#000" stroke-width="1.1" />
<text x="149.25" y="479.5125" font-size="10.2" text-anchor="end" font-weight="bold" letter-spacing="-0.25">4</text>
<line x1="150.85" y1="459.375" x2="153.75" y2="459.375" stroke="#000" stroke-width="1.1" />
<text x="149.25" y="463.575" font-size="10.2" text-anchor="end" font-weight="bold" letter-spacing="-0.25">8</text>
<line x1="150.85" y1="443.4375" x2="153.75" y2="443.4375" stroke="#000" stroke-width="1.1" />
<text x="149.25" y="447.6375" font-size="10.2" text-anchor="end" font-weight="bold" letter-spacing="-0.25">12</text>
<line x1="150.85" y1="427.5" x2="153.75" y2="427.5" stroke="#000" stroke-width="1.1" />
<text x="149.25" y="431.7" font-size="10.2" text-anchor="end" font-weight="bold" letter-spacing="-0.25">16</text>
<line x1="161.75" y1="429.5" x2="161.75" y2="433.75" stroke="#000" stroke-width="0.8" />
<line x1="160.25" y1="429.5" x2="163.25" y2="429.5" stroke="#000" stroke-width="0.8" />
<rect x="158" y="433.75" width="7.5" height="57.5" fill="#000" stroke="none" stroke-width="1"/>
<line x1="170.55" y1="445" x2="170.55" y2="450.75" stroke="#000" stroke-width="0.8" />
<line x1="168.85000000000002" y1="445" x2="172.25" y2="445" stroke="#000" stroke-width="0.8" />
<rect x="167.1" y="451.25" width="6.900000000000006" height="40.0" fill="#c8c8c8" stroke="#4a4a4a" stroke-width="1.0"/>
<line x1="179.55" y1="464.5" x2="179.55" y2="471.75" stroke="#000" stroke-width="0.8" />
<line x1="177.85000000000002" y1="464.5" x2="181.25" y2="464.5" stroke="#000" stroke-width="0.8" />
<rect x="176.35" y="472.25" width="6.400000000000006" height="19.0" fill="#fff" stroke="#000" stroke-width="1.0"/>
<text x="170.3" y="505.4" font-size="10" text-anchor="middle" font-weight="bold" >CCL4</text>
<text x="162.3" y="431.7" font-size="9" text-anchor="middle" font-weight="bold" >***</text>
<text x="170.7" y="446.7" font-size="9" text-anchor="middle" font-weight="bold" >**</text>
<line x1="229.25" y1="426.5" x2="229.25" y2="491.9" stroke="#000" stroke-width="1.3" />
<line x1="228.6" y1="491.25" x2="261.75" y2="491.25" stroke="#000" stroke-width="1.3" />
<line x1="226.35" y1="491.25" x2="229.25" y2="491.25" stroke="#000" stroke-width="1.1" />
<text x="224.75" y="495.45" font-size="10.2" text-anchor="end" font-weight="bold" letter-spacing="-0.25">0</text>
<line x1="226.35" y1="478.4" x2="229.25" y2="478.4" stroke="#000" stroke-width="1.1" />
<text x="224.75" y="482.59999999999997" font-size="10.2" text-anchor="end" font-weight="bold" letter-spacing="-0.25">2</text>
<line x1="226.35" y1="465.55" x2="229.25" y2="465.55" stroke="#000" stroke-width="1.1" />
<text x="224.75" y="469.75" font-size="10.2" text-anchor="end" font-weight="bold" letter-spacing="-0.25">4</text>
<line x1="226.35" y1="452.7" x2="229.25" y2="452.7" stroke="#000" stroke-width="1.1" />
<text x="224.75" y="456.9" font-size="10.2" text-anchor="end" font-weight="bold" letter-spacing="-0.25">6</text>
<line x1="226.35" y1="439.85" x2="229.25" y2="439.85" stroke="#000" stroke-width="1.1" />
<text x="224.75" y="444.05" font-size="10.2" text-anchor="end" font-weight="bold" letter-spacing="-0.25">8</text>
<line x1="226.35" y1="427.0" x2="229.25" y2="427.0" stroke="#000" stroke-width="1.1" />
<text x="224.75" y="431.2" font-size="10.2" text-anchor="end" font-weight="bold" letter-spacing="-0.25">10</text>
<line x1="236.5" y1="432.5" x2="236.5" y2="435.75" stroke="#000" stroke-width="0.8" />
<line x1="235.0" y1="432.5" x2="238.0" y2="432.5" stroke="#000" stroke-width="0.8" />
<rect x="233" y="435.75" width="7" height="55.5" fill="#000" stroke="none" stroke-width="1"/>
<line x1="245.3" y1="430.5" x2="245.3" y2="440" stroke="#000" stroke-width="0.8" />
<line x1="243.60000000000002" y1="430.5" x2="247.0" y2="430.5" stroke="#000" stroke-width="0.8" />
<rect x="241.85" y="440.5" width="6.900000000000006" height="50.75" fill="#c8c8c8" stroke="#4a4a4a" stroke-width="1.0"/>
<line x1="254.175" y1="458.25" x2="254.175" y2="467.5" stroke="#000" stroke-width="0.8" />
<line x1="252.47500000000002" y1="458.25" x2="255.875" y2="458.25" stroke="#000" stroke-width="0.8" />
<rect x="250.85" y="468.0" width="6.650000000000006" height="23.25" fill="#fff" stroke="#000" stroke-width="1.0"/>
<text x="245.3" y="505.4" font-size="10" text-anchor="middle" font-weight="bold" >CCL3</text>
<text x="236.3" y="432.3" font-size="9" text-anchor="middle" font-weight="bold" >**</text>
<text x="245.3" y="431.7" font-size="9" text-anchor="middle" font-weight="bold" >**</text>
<line x1="302" y1="426.5" x2="302" y2="491.15" stroke="#000" stroke-width="1.3" />
<line x1="301.35" y1="490.5" x2="334.5" y2="490.5" stroke="#000" stroke-width="1.3" />
<line x1="299.1" y1="490.5" x2="302" y2="490.5" stroke="#000" stroke-width="1.1" />
<text x="297.5" y="494.7" font-size="10.2" text-anchor="end" font-weight="bold" letter-spacing="-0.25">0</text>
<line x1="299.1" y1="474.625" x2="302" y2="474.625" stroke="#000" stroke-width="1.1" />
<text x="297.5" y="478.825" font-size="10.2" text-anchor="end" font-weight="bold" letter-spacing="-0.25">2</text>
<line x1="299.1" y1="458.75" x2="302" y2="458.75" stroke="#000" stroke-width="1.1" />
<text x="297.5" y="462.95" font-size="10.2" text-anchor="end" font-weight="bold" letter-spacing="-0.25">4</text>
<line x1="299.1" y1="442.875" x2="302" y2="442.875" stroke="#000" stroke-width="1.1" />
<text x="297.5" y="447.075" font-size="10.2" text-anchor="end" font-weight="bold" letter-spacing="-0.25">6</text>
<line x1="299.1" y1="427.0" x2="302" y2="427.0" stroke="#000" stroke-width="1.1" />
<text x="297.5" y="431.2" font-size="10.2" text-anchor="end" font-weight="bold" letter-spacing="-0.25">8</text>
<line x1="308.5" y1="431.25" x2="308.5" y2="438.75" stroke="#000" stroke-width="0.8" />
<line x1="307.0" y1="431.25" x2="310.0" y2="431.25" stroke="#000" stroke-width="0.8" />
<rect x="305" y="438.75" width="7" height="51.75" fill="#000" stroke="none" stroke-width="1"/>
<line x1="317.05" y1="433.25" x2="317.05" y2="453.25" stroke="#000" stroke-width="0.8" />
<line x1="315.35" y1="433.25" x2="318.75" y2="433.25" stroke="#000" stroke-width="0.8" />
<rect x="313.85" y="453.75" width="6.399999999999977" height="36.75" fill="#c8c8c8" stroke="#4a4a4a" stroke-width="1.0"/>
<line x1="326.05" y1="446.75" x2="326.05" y2="458.25" stroke="#000" stroke-width="0.8" />
<line x1="324.35" y1="446.75" x2="327.75" y2="446.75" stroke="#000" stroke-width="0.8" />
<rect x="322.6" y="458.75" width="6.899999999999977" height="31.75" fill="#fff" stroke="#000" stroke-width="1.0"/>
<text x="317.3" y="505.4" font-size="10" text-anchor="middle" font-weight="bold" >CCL11</text>
<line x1="84.5" y1="528.6" x2="84.5" y2="593.55" stroke="#000" stroke-width="1.3" />
<line x1="83.85" y1="592.9" x2="117.0" y2="592.9" stroke="#000" stroke-width="1.3" />
<line x1="81.6" y1="592.9" x2="84.5" y2="592.9" stroke="#000" stroke-width="1.1" />
<text x="80.0" y="597.1" font-size="10.2" text-anchor="end" font-weight="bold" letter-spacing="-0.25">0</text>
<line x1="81.6" y1="576.95" x2="84.5" y2="576.95" stroke="#000" stroke-width="1.1" />
<text x="80.0" y="581.1500000000001" font-size="10.2" text-anchor="end" font-weight="bold" letter-spacing="-0.25">2</text>
<line x1="81.6" y1="561.0" x2="84.5" y2="561.0" stroke="#000" stroke-width="1.1" />
<text x="80.0" y="565.2" font-size="10.2" text-anchor="end" font-weight="bold" letter-spacing="-0.25">4</text>
<line x1="81.6" y1="545.05" x2="84.5" y2="545.05" stroke="#000" stroke-width="1.1" />
<text x="80.0" y="549.25" font-size="10.2" text-anchor="end" font-weight="bold" letter-spacing="-0.25">6</text>
<line x1="81.6" y1="529.1" x2="84.5" y2="529.1" stroke="#000" stroke-width="1.1" />
<text x="80.0" y="533.3000000000001" font-size="10.2" text-anchor="end" font-weight="bold" letter-spacing="-0.25">8</text>
<line x1="91.6" y1="564.3" x2="91.6" y2="572.3" stroke="#000" stroke-width="0.8" />
<line x1="90.5" y1="564.3" x2="92.69999999999999" y2="564.3" stroke="#000" stroke-width="0.8" />
<rect x="88" y="572.3" width="7.200000000000003" height="20.600000000000023" fill="#000" stroke="none" stroke-width="1"/>
<line x1="100.3" y1="577" x2="100.3" y2="578.4" stroke="#000" stroke-width="0.8" />
<line x1="99.2" y1="577" x2="101.39999999999999" y2="577" stroke="#000" stroke-width="0.8" />
<rect x="97.1" y="578.9" width="6.400000000000006" height="14.0" fill="#c8c8c8" stroke="#4a4a4a" stroke-width="1.0"/>
<line x1="109.175" y1="577" x2="109.175" y2="579.3" stroke="#000" stroke-width="0.8" />
<line x1="108.075" y1="577" x2="110.27499999999999" y2="577" stroke="#000" stroke-width="0.8" />
<rect x="105.85" y="579.8" width="6.650000000000006" height="13.100000000000023" fill="#fff" stroke="#000" stroke-width="1.0"/>
<text x="101" y="607.6999999999999" font-size="10" text-anchor="middle" font-weight="bold" >IL-10</text>
<line x1="153.75" y1="528.6" x2="153.75" y2="593.55" stroke="#000" stroke-width="1.3" />
<line x1="153.1" y1="592.9" x2="186.25" y2="592.9" stroke="#000" stroke-width="1.3" />
<line x1="150.85" y1="592.9" x2="153.75" y2="592.9" stroke="#000" stroke-width="1.1" />
<text x="149.25" y="597.1" font-size="10.2" text-anchor="end" font-weight="bold" letter-spacing="-0.25">0</text>
<line x1="150.85" y1="576.95" x2="153.75" y2="576.95" stroke="#000" stroke-width="1.1" />
<text x="149.25" y="581.1500000000001" font-size="10.2" text-anchor="end" font-weight="bold" letter-spacing="-0.25">2</text>
<line x1="150.85" y1="561.0" x2="153.75" y2="561.0" stroke="#000" stroke-width="1.1" />
<text x="149.25" y="565.2" font-size="10.2" text-anchor="end" font-weight="bold" letter-spacing="-0.25">4</text>
<line x1="150.85" y1="545.05" x2="153.75" y2="545.05" stroke="#000" stroke-width="1.1" />
<text x="149.25" y="549.25" font-size="10.2" text-anchor="end" font-weight="bold" letter-spacing="-0.25">6</text>
<line x1="150.85" y1="529.1" x2="153.75" y2="529.1" stroke="#000" stroke-width="1.1" />
<text x="149.25" y="533.3000000000001" font-size="10.2" text-anchor="end" font-weight="bold" letter-spacing="-0.25">8</text>
<line x1="161.5" y1="586.8" x2="161.5" y2="587.8" stroke="#000" stroke-width="0.8" />
<line x1="160.4" y1="586.8" x2="162.6" y2="586.8" stroke="#000" stroke-width="0.8" />
<rect x="158" y="587.8" width="7" height="5.100000000000023" fill="#000" stroke="none" stroke-width="1"/>
<line x1="170.175" y1="588.2" x2="170.175" y2="589.2" stroke="#000" stroke-width="0.8" />
<line x1="169.07500000000002" y1="588.2" x2="171.275" y2="588.2" stroke="#000" stroke-width="0.8" />
<rect x="167.1" y="589.7" width="6.150000000000006" height="3.199999999999932" fill="#c8c8c8" stroke="#4a4a4a" stroke-width="1.0"/>
<line x1="179.3" y1="583.4" x2="179.3" y2="584.1" stroke="#000" stroke-width="0.8" />
<line x1="178.20000000000002" y1="583.4" x2="180.4" y2="583.4" stroke="#000" stroke-width="0.8" />
<rect x="175.85" y="584.6" width="6.900000000000006" height="8.299999999999955" fill="#fff" stroke="#000" stroke-width="1.0"/>
<text x="171.3" y="607.6999999999999" font-size="10" text-anchor="middle" font-weight="bold" >IL-17</text>
<line x1="229.25" y1="528.6" x2="229.25" y2="593.55" stroke="#000" stroke-width="1.3" />
<line x1="228.6" y1="592.9" x2="261.75" y2="592.9" stroke="#000" stroke-width="1.3" />
<line x1="226.35" y1="592.9" x2="229.25" y2="592.9" stroke="#000" stroke-width="1.1" />
<text x="224.75" y="597.1" font-size="10.2" text-anchor="end" font-weight="bold" letter-spacing="-0.25">0</text>
<line x1="226.35" y1="576.95" x2="229.25" y2="576.95" stroke="#000" stroke-width="1.1" />
<text x="224.75" y="581.1500000000001" font-size="10.2" text-anchor="end" font-weight="bold" letter-spacing="-0.25">2</text>
<line x1="226.35" y1="561.0" x2="229.25" y2="561.0" stroke="#000" stroke-width="1.1" />
<text x="224.75" y="565.2" font-size="10.2" text-anchor="end" font-weight="bold" letter-spacing="-0.25">4</text>
<line x1="226.35" y1="545.05" x2="229.25" y2="545.05" stroke="#000" stroke-width="1.1" />
<text x="224.75" y="549.25" font-size="10.2" text-anchor="end" font-weight="bold" letter-spacing="-0.25">6</text>
<line x1="226.35" y1="529.1" x2="229.25" y2="529.1" stroke="#000" stroke-width="1.1" />
<text x="224.75" y="533.3000000000001" font-size="10.2" text-anchor="end" font-weight="bold" letter-spacing="-0.25">8</text>
<line x1="235.875" y1="587.7" x2="235.875" y2="588.6" stroke="#000" stroke-width="0.8" />
<line x1="234.775" y1="587.7" x2="236.975" y2="587.7" stroke="#000" stroke-width="0.8" />
<rect x="232.5" y="588.6" width="6.75" height="4.2999999999999545" fill="#000" stroke="none" stroke-width="1"/>
<line x1="244.55" y1="586.3" x2="244.55" y2="587.3" stroke="#000" stroke-width="0.8" />
<line x1="243.45000000000002" y1="586.3" x2="245.65" y2="586.3" stroke="#000" stroke-width="0.8" />
<rect x="241.35" y="587.8" width="6.400000000000006" height="5.100000000000023" fill="#c8c8c8" stroke="#4a4a4a" stroke-width="1.0"/>
<line x1="253.55" y1="586.7" x2="253.55" y2="587.8" stroke="#000" stroke-width="0.8" />
<line x1="252.45000000000002" y1="586.7" x2="254.65" y2="586.7" stroke="#000" stroke-width="0.8" />
<rect x="250.1" y="588.3" width="6.900000000000006" height="4.600000000000023" fill="#fff" stroke="#000" stroke-width="1.0"/>
<text x="244.8" y="607.6999999999999" font-size="10" text-anchor="middle" font-weight="bold" >TGFß</text>
<rect x="408.75" y="455.5" width="13.75" height="6.5" fill="#000" stroke="none" stroke-width="1"/>
<rect x="409.25" y="470" width="12.75" height="5.7" fill="#8a8a8a" stroke="#222" stroke-width="1"/>
<rect x="409.25" y="483.5" width="12.75" height="5.7" fill="#fff" stroke="#000" stroke-width="1"/>
<text x="426.3" y="462" font-size="11" text-anchor="start" font-weight="bold" >RNA</text>
<text x="426.3" y="476.3" font-size="11" text-anchor="start" font-weight="bold" >Poly U</text>
<text x="426.3" y="490.8" font-size="11" text-anchor="start" font-weight="bold" >Poly C</text>
</svg>
<div id="frame"></div>
</body></html>
